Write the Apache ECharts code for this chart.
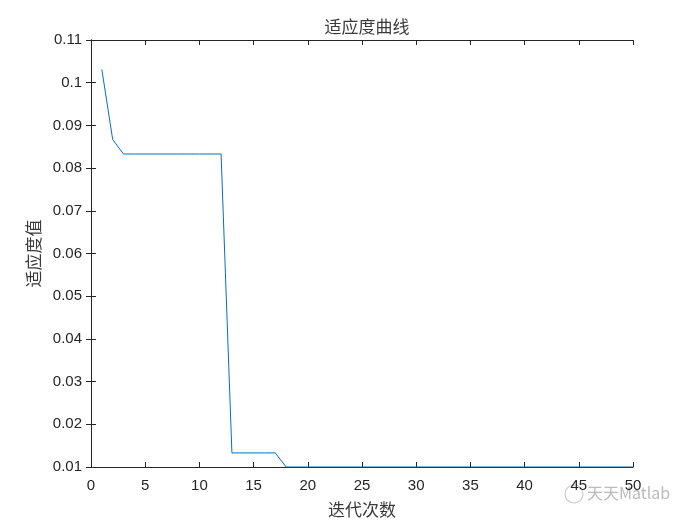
<!DOCTYPE html>
<html><head><meta charset="utf-8">
<script src="https://cdn.jsdelivr.net/npm/echarts@6/dist/echarts.min.js"></script>
<style>html,body{margin:0;padding:0;background:#fff}#c{width:700px;height:525px}</style>
</head><body><div id="c"></div>
<script>
var titleText = '适应度曲线';
var xName = '迭代次数';
var yName = '适应度值';
var iterations = [1,2,3,4,5,6,7,8,9,10,11,12,13,14,15,16,17,18,19,20,21,22,23,24,25,26,27,28,29,30,31,32,33,34,35,36,37,38,39,40,41,42,43,44,45,46,47,48,49,50];
var fitness = [0.1031,0.0867,0.0833,0.0833,0.0833,0.0833,0.0833,0.0833,0.0833,0.0833,0.0833,0.0833,
  0.0133,0.0133,0.0133,0.0133,0.0133,
  0.0100,0.0100,0.0100,0.0100,0.0100,0.0100,0.0100,0.0100,0.0100,0.0100,0.0100,0.0100,0.0100,
  0.0100,0.0100,0.0100,0.0100,0.0100,0.0100,0.0100,0.0100,0.0100,0.0100,0.0100,0.0100,0.0100,
  0.0100,0.0100,0.0100,0.0100,0.0100,0.0100,0.0100];
var xTicks = {min:0, max:50, interval:5};
var yTicks = {min:0.01, max:0.11, interval:0.01};

var chart = echarts.init(document.getElementById('c'));
var data = iterations.map(function(x,i){return [x, fitness[i]];});
var lab = {color:'#262626', fontFamily:'Liberation Sans, Arial, sans-serif', fontSize:15};
var cjk = {fontFamily:'Noto Sans CJK SC', fontWeight:'normal', fontSize:17, color:'#3a3a3a'};
var axLine = {show:true, lineStyle:{color:'#262626', width:1}};
var tick = {show:true, inside:true, length:5, lineStyle:{color:'#262626'}};
chart.setOption({
  animation:false,
  title:{text:titleText, left:362, top:13, textAlign:'center', textStyle:cjk},
  grid:{left:91, top:40, right:67, bottom:58, containLabel:false, outerBoundsMode:'none'},
  xAxis:[{type:'value', min:xTicks.min, max:xTicks.max, interval:xTicks.interval,
    axisLine:axLine, axisTick:tick, splitLine:{show:false},
    axisLabel:Object.assign({margin:11}, lab),
    name:xName, nameLocation:'middle', nameGap:34, nameTextStyle:cjk},
   {type:'value', position:'top', min:xTicks.min, max:xTicks.max, interval:xTicks.interval,
    axisLine:axLine, axisTick:tick, axisLabel:{show:false}, splitLine:{show:false}}],
  yAxis:[{type:'value', min:yTicks.min, max:yTicks.max, interval:yTicks.interval,
    axisLine:axLine, axisTick:tick, splitLine:{show:false},
    axisLabel:Object.assign({margin:9, formatter:function(v){return String(parseFloat(v.toFixed(2)));}}, lab),
    name:yName, nameLocation:'middle', nameGap:48, nameTextStyle:cjk},
   {type:'value', position:'right', min:yTicks.min, max:yTicks.max, interval:yTicks.interval,
    axisLine:axLine, axisTick:tick, axisLabel:{show:false}, splitLine:{show:false}}],
  series:[{type:'line', data:data, showSymbol:false, symbol:'none',
    lineStyle:{color:'#0072BD', width:1}, itemStyle:{color:'#0072BD'}}],
  graphic:[{type:'text', left:586, top:484, silent:true,
    style:{text:'天天Matlab', fontFamily:'Noto Sans CJK SC', fontSize:16, fill:'#bbbbbb',
      stroke:'#ffffff', lineWidth:2}},
    {type:'circle', shape:{cx:574, cy:494, r:9}, style:{fill:'none', stroke:'#cccccc', lineWidth:1.2}}]
});
</script></body></html>
